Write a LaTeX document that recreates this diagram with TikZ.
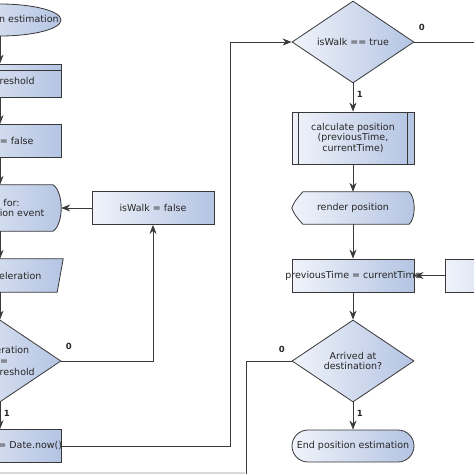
\documentclass[tikz,border=0pt]{standalone}
\usepackage{fontspec}
\setmainfont{DejaVu Sans}
\usetikzlibrary{arrows.meta,shapes.geometric,backgrounds}
\definecolor{BoxLight}{HTML}{F0F3FA}
\definecolor{BoxBlue}{HTML}{B4C4E3}
\definecolor{EdgeCol}{HTML}{383838}
\definecolor{LineCol}{HTML}{3A3A3A}

\begin{document}
\begin{tikzpicture}[x=1pt, y=-1pt,
  every node/.style={font=\fontsize{9.5}{10.7}\selectfont, text=black!85, inner sep=1.5pt, align=center},
  boxfill/.style={draw=EdgeCol, line width=0.8pt, left color=BoxLight, right color=BoxBlue},
  procbox/.style={boxfill, rectangle, minimum width=122pt, minimum height=33pt},
  plainbox/.style={rectangle, minimum width=122pt, minimum height=33pt},
  testbox/.style={boxfill, diamond, aspect=1.5, minimum width=122pt, minimum height=82pt, inner sep=0pt},
  termbox/.style={boxfill, rectangle, rounded corners=16pt, minimum width=122pt, minimum height=32pt},
  link/.style={draw=LineCol, line width=0.8pt},
  flow/.style={link, -{Stealth[length=9pt,width=7pt]}},
  tag/.style={font=\bfseries\fontsize{8.5}{10}\selectfont, inner sep=0pt}]
  \useasboundingbox (0,0) rectangle (474,474);
  \clip (0,0) rectangle (474,474);
  % Left column
  \node[boxfill, ellipse, minimum width=122pt, minimum height=32pt, inner sep=0pt] (start) at (0,20)
    {\makebox[0pt]{Start position estimation}};
  \node[procbox] (rdthr) at (0,80.5) {read threshold};
  \node[procbox] (setwalk) at (0,141) {isWalk = false};
  \node[plainbox, minimum height=46pt] (waitacc) at (0,208) {wait for:\\acceleration event};
  \node[plainbox, minimum width=120pt] (rdacc) at (0,275.5) {read acceleration};
  \node[testbox] (chkacc) at (0,361) {acceleration\\>=\\walk threshold};
  \node[procbox] (curtime) at (0,446) {\makebox[0pt]{currentTime = Date.now()}};
  \node[procbox] (walkf) at (153,208) {isWalk = false};
  % Right column
  \node[testbox] (chkwalk) at (353,42) {isWalk == true};
  \node[procbox, minimum height=52pt] (calcpos) at (353,138) {calculate position\\(previousTime,\\currentTime)};
  \node[plainbox, minimum height=32pt] (render) at (353,208) {render position};
  \node[procbox] (prevtime) at (353,275.5) {\makebox[0pt]{previousTime = currentTime}};
  \node[procbox] (skip) at (506,275.5) {};
  \node[testbox] (arrived) at (353,361) {Arrived at\\destination?};
  \node[termbox] (finish) at (353,446) {End position estimation};
  \coordinate (rtout) at (490,42);
  \coordinate (btout) at (246,490);
  % Shapes behind the text
  \begin{scope}[on background layer]
    \path[boxfill] (waitacc.north west) -- ([xshift=-8pt]waitacc.north east)
      .. controls ([shift={(2.7,8)}]waitacc.north east) and ([shift={(2.7,-8)}]waitacc.south east)
      .. ([xshift=-8pt]waitacc.south east) -- (waitacc.south west) -- cycle;
    \path[boxfill] ([xshift=11pt]render.north west) -- ([xshift=-5pt]render.north east)
      .. controls ([shift={(1.7,6)}]render.north east) and ([shift={(1.7,-6)}]render.south east)
      .. ([xshift=-5pt]render.south east) -- ([xshift=11pt]render.south west)
      .. controls ([shift={(3,7)}]render.west) .. (render.west)
      .. controls ([shift={(3,-7)}]render.west) .. cycle;
    \path[boxfill] ([xshift=3pt]rdacc.north west) -- ([xshift=3pt]rdacc.north east)
      -- ([xshift=-3pt]rdacc.south east) -- ([xshift=-3pt]rdacc.south west) -- cycle;
  \end{scope}
  % Inner lines of storage and subroutine boxes
  \draw[EdgeCol, line width=0.8pt] ([yshift=-7pt]rdthr.north west) -- ([yshift=-7pt]rdthr.north east);
  \draw[EdgeCol, line width=0.8pt] ([xshift=7pt]rdthr.north west) -- ([xshift=7pt]rdthr.south west);
  \draw[EdgeCol, line width=0.8pt] ([xshift=7pt]calcpos.north west) -- ([xshift=7pt]calcpos.south west);
  \draw[EdgeCol, line width=0.8pt] ([xshift=-7pt]calcpos.north east) -- ([xshift=-7pt]calcpos.south east);
  % Connectors
  \foreach \a/\b in {start/rdthr, rdthr/setwalk, setwalk/waitacc, waitacc/rdacc, rdacc/chkacc,
                     calcpos/render, render/prevtime, prevtime/arrived, walkf/waitacc, skip/prevtime}
    \draw[flow] (\a) -- (\b);
  \draw[flow] (chkacc) -- node[tag, right, pos=0.4, xshift=3.5pt] {1} (curtime);
  \draw[flow] (chkwalk) -- node[tag, right, pos=0.4, xshift=3.5pt] {1} (calcpos);
  \draw[flow] (arrived) -- node[tag, right, pos=0.42, xshift=3.5pt] {1} (finish);
  \draw[flow] (chkacc.east) -| node[tag, pos=0, anchor=south west, shift={(4,-11)}] {0} (walkf.south);
  \draw[flow] (curtime.east) -- ++(169,0) |- (chkwalk.west);
  \draw[link] (chkwalk.east) -- node[tag, pos=0, anchor=south west, shift={(4,-11)}] {0} (rtout);
  \draw[link] (arrived.west) -| node[tag, pos=0, anchor=south east, shift={(-6.5,-7.5)}] {0} (btout);
  % Bottom strip
  \fill[gray!30] (0,472) rectangle (245,474);
\end{tikzpicture}
\end{document}
